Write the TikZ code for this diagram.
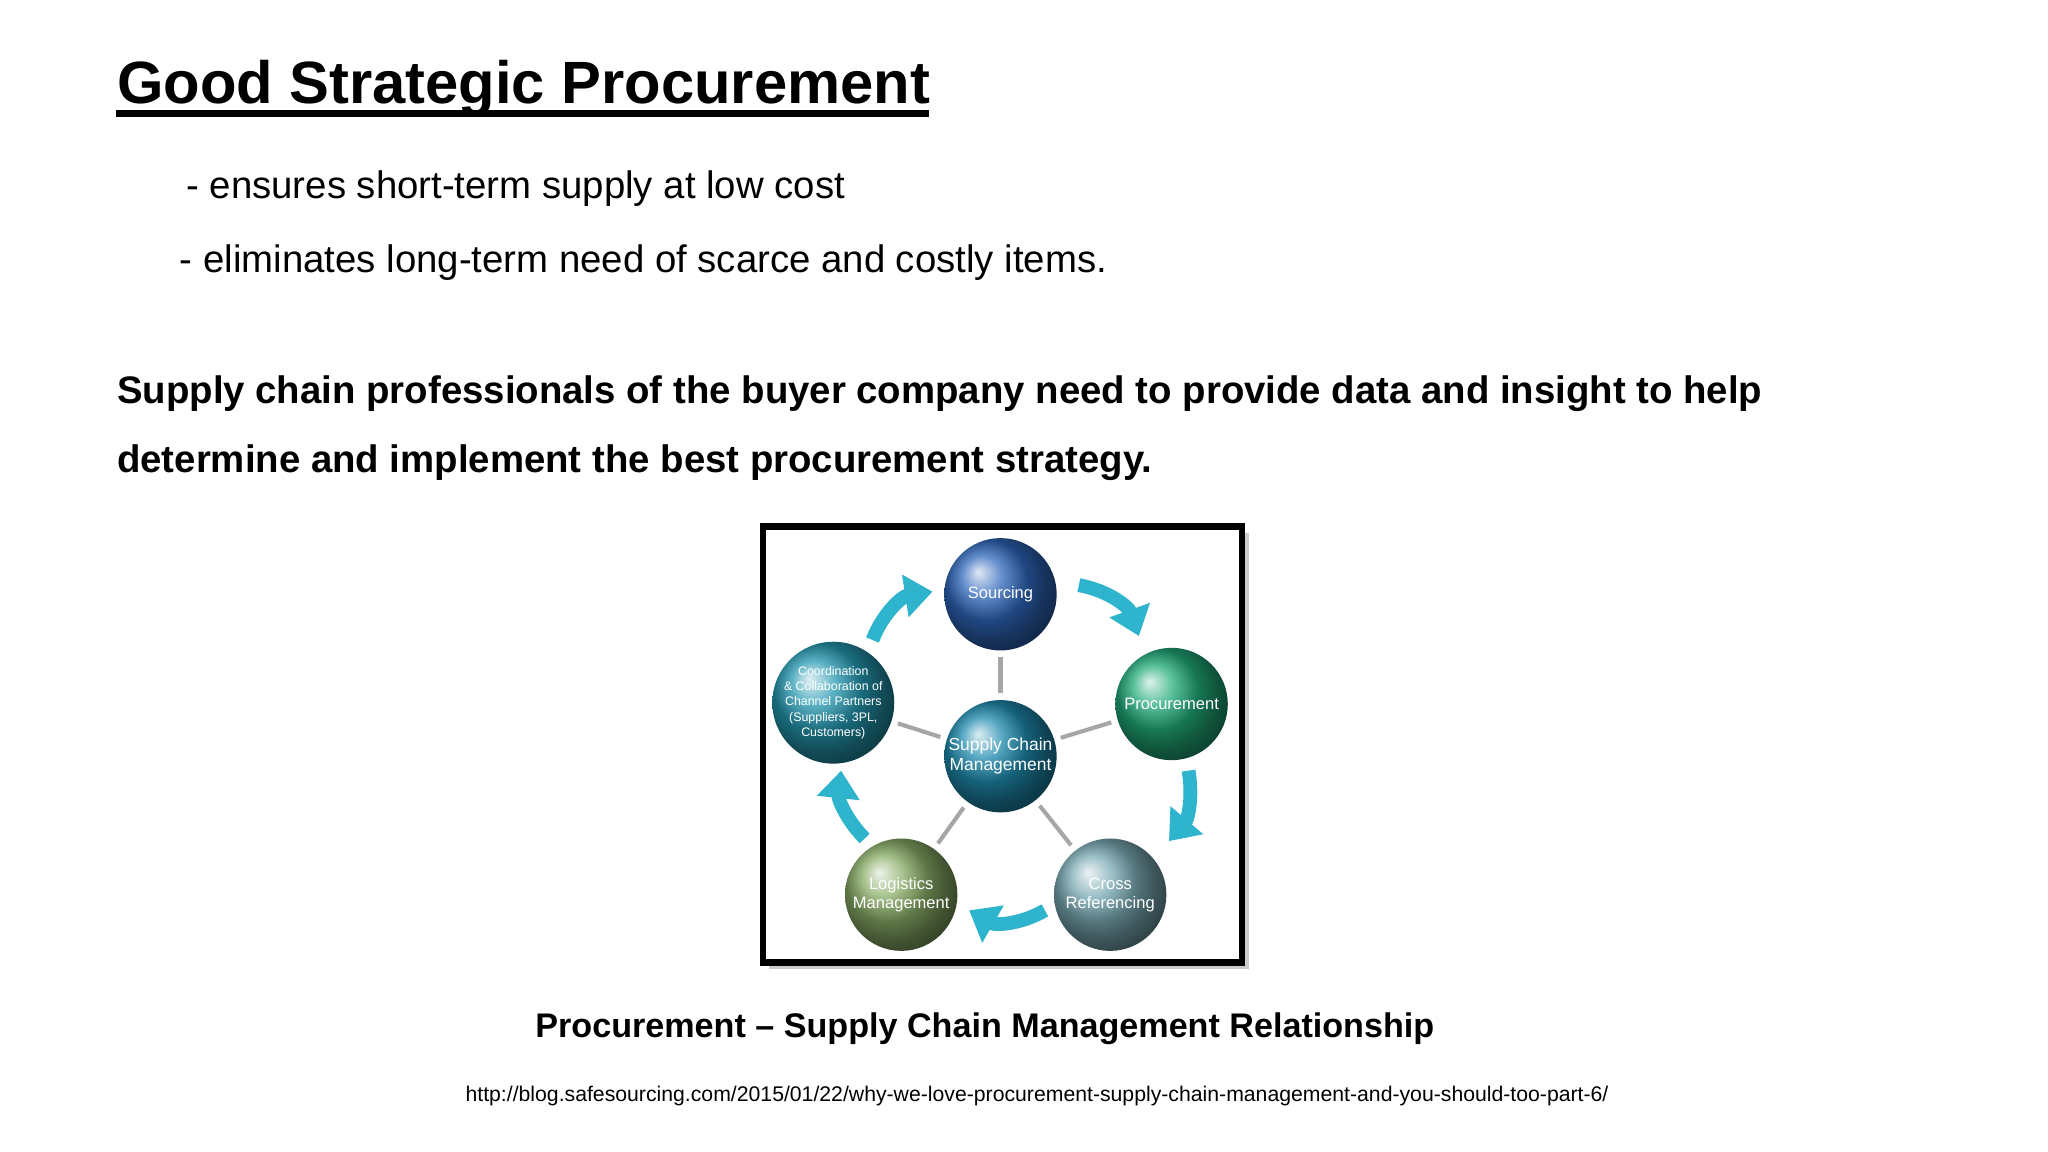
\documentclass[tikz,border=0pt]{standalone}
\usepackage{fontspec}
\setmainfont{Liberation Sans}
\usetikzlibrary{arrows.meta,calc}
\definecolor{cs}{HTML}{2E66BA}
\definecolor{cp}{HTML}{20AA78}
\definecolor{cx}{HTML}{7AAAB4}
\definecolor{cl}{HTML}{88AC66}
\definecolor{cc}{HTML}{2498B0}
\definecolor{cm}{HTML}{1E8AAE}
\definecolor{arr}{HTML}{2EB4CC}
\tikzset{
  ball/.style={circle,minimum size=0.86cm,inner sep=0pt,align=center,text=white,font=\fontsize{3.6}{4.2}\selectfont},
  spoke/.style={draw=gray!70,line width=0.9pt,shorten <=1.3pt,shorten >=1.3pt},
  cyc/.style={draw=arr,line width=3pt,-{Triangle[length=6pt,width=9pt]}}
}
\begin{document}
\begin{tikzpicture}[x=0.01cm,y=-0.01cm]
\useasboundingbox (0,0) rectangle (1568,882);
\fill[white] (0,0) rectangle (1568,882);
\node[anchor=base west,inner sep=0pt,font=\fontsize{13}{15}\selectfont\bfseries] (title) at (89,79) {Good Strategic Procurement};
\draw[line width=1.5pt] (89,87) -- (711,87);
\node[anchor=base west,inner sep=0pt,font=\fontsize{8.35}{10}\selectfont] (l1) at (142,152) {- ensures short-term supply at low cost};
\node[anchor=base west,inner sep=0pt,font=\fontsize{8.35}{10}\selectfont] (l2) at (137,209) {- eliminates long-term need of scarce and costly items.};
\node[anchor=base west,inner sep=0pt,font=\fontsize{8.35}{10}\selectfont\bfseries] (p1) at (89,309) {Supply chain professionals of the buyer company need to provide data and insight to help};
\node[anchor=base west,inner sep=0pt,font=\fontsize{8.35}{10}\selectfont\bfseries] (p2) at (89,362) {determine and implement the best procurement strategy.};
% frame
\fill[gray!40] (589,408) rectangle (956,742);
\draw[line width=1.4pt,fill=white] (584,403) rectangle (951,737);
\node[ball,ball color=cs] (s) at (766,455) {Sourcing};
\node[ball,ball color=cp] (p) at (897,539) {Procurement};
\node[ball,ball color=cx] (x) at (850,685) {Cross\\Referencing};
\node[ball,ball color=cl] (lg) at (690,685) {Logistics\\Management};
\node[ball,ball color=cc,font=\fontsize{2.7}{3.3}\selectfont] (c) at (638,538) {Coordination\\\& Collaboration of\\Channel Partners\\(Suppliers, 3PL,\\Customers)};
\node[ball,ball color=cm,font=\fontsize{3.8}{4.4}\selectfont] (m) at (766,579) {Supply Chain\\Management};
\foreach \n in {s,p,x,lg,c} \draw[spoke] (m) -- (\n);
\coordinate (a1) at (826,448); \coordinate (b1) at (872,487);
\coordinate (a2) at (910,590); \coordinate (b2) at (895,644);
\coordinate (a3) at (800,697); \coordinate (b3) at (742,697);
\coordinate (a4) at (662,642); \coordinate (b4) at (644,590);
\coordinate (a5) at (668,490); \coordinate (b5) at (714,453);
\draw[cyc] (a1) to[bend left=30] (b1);
\draw[cyc] (a2) to[bend left=25] (b2);
\draw[cyc] (a3) to[bend left=30] (b3);
\draw[cyc] (a4) to[bend right=-25] (b4);
\draw[cyc] (a5) to[bend left=30] (b5);
\node[anchor=base,inner sep=0pt,font=\fontsize{7.43}{9}\selectfont\bfseries] (cap) at (754,794) {Procurement -- Supply Chain Management Relationship};
\node[anchor=base,inner sep=0pt,font=\fontsize{4.62}{6}\selectfont] (url) at (794,843) {http://blog.safesourcing.com/2015/01/22/why-we-love-procurement-supply-chain-management-and-you-should-too-part-6/};
\end{tikzpicture}
\end{document}
